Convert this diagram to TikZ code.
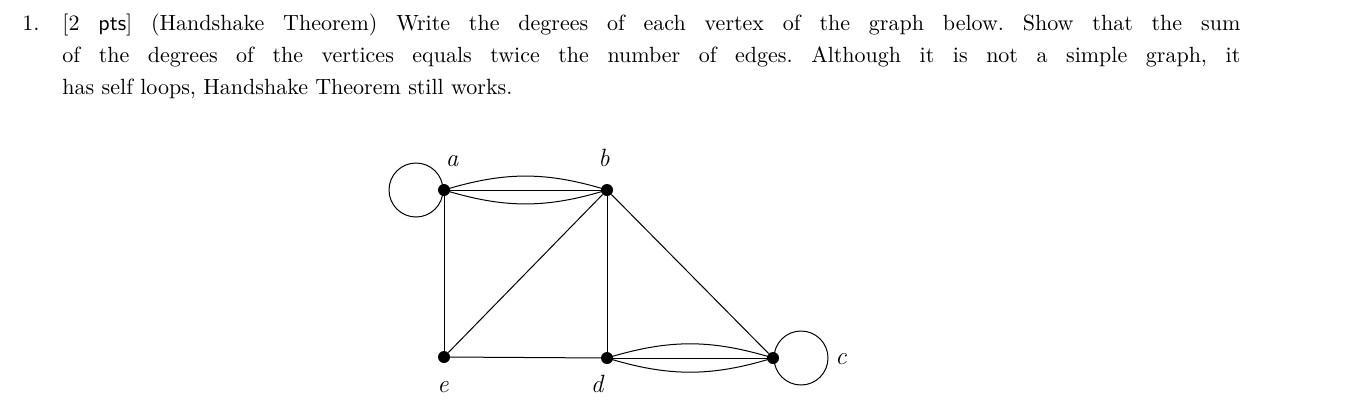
\documentclass[tikz,border=0pt]{standalone}
\usepackage{fontspec}
\begin{document}
\begin{tikzpicture}[x=1pt,y=-1pt,
  vtx/.style={circle,fill=black,inner sep=0pt,minimum size=12pt},
  edge/.style={line width=1pt},
  lbl/.style={font=\fontsize{25}{25}\selectfont\itshape}]
\useasboundingbox (0,0) rectangle (1366,416);
\node[anchor=north west,inner sep=0pt,scale=2.2] (txt) at (22,14)
 {\begin{minipage}{553.6pt}\fontsize{10}{14.5}\selectfont\frenchspacing\hangindent=18.2pt\hangafter=1
 \parfillskip=0pt plus 1fil
 \makebox[18.2pt][l]{1.}[2 {\sffamily pts}] (Handshake Theorem) Write the degrees of each vertex of the graph below. Show that the sum \linebreak
 of the degrees of the vertices equals twice the number of edges. Although it is not a simple graph, it \linebreak
 has self loops, Handshake Theorem still works.\end{minipage}};
\node[vtx] (a) at (444,190) {};
\node[vtx] (b) at (607,190) {};
\node[vtx] (e) at (444,357) {};
\node[vtx] (d) at (607,358) {};
\node[vtx] (c) at (773,358) {};
\draw[edge] (a) -- (b);
\draw[edge] (a.center) to[bend left=17] (b.center);
\draw[edge] (a.center) to[bend right=17] (b.center);
\draw[edge] (d) -- (c);
\draw[edge] (d.center) to[bend left=17] (c.center);
\draw[edge] (d.center) to[bend right=17] (c.center);
\draw[edge] (a) -- (e);
\draw[edge] (e) -- (d);
\draw[edge] (e) -- (b);
\draw[edge] (b) -- (d);
\draw[edge] (b) -- (c);
\draw[edge] (416,190) circle (27);
\draw[edge] (801,358) circle (27);
\node[lbl] (la) at (452,161) {a};
\node[lbl] (lb) at (604,158) {b};
\node[lbl] (le) at (443,387) {e};
\node[lbl] (ld) at (597,384) {d};
\node[lbl] (lc) at (841,359) {c};
\end{tikzpicture}
\end{document}
